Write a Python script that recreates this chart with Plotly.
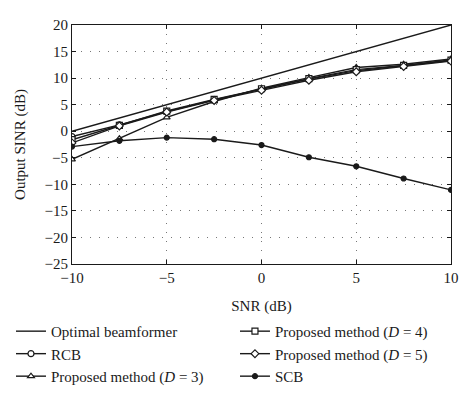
import plotly.graph_objects as go

snr = [-10, -7.5, -5, -2.5, 0, 2.5, 5, 7.5, 10]
optimal = [0, 2.5, 5, 7.5, 10, 12.5, 15, 17.5, 20]
rcb = [-1.0, 1.2, 3.7, 5.9, 7.9, 9.8, 11.4, 12.3, 13.3]
prop_d3 = [-5.3, -1.4, 2.6, 5.6, 8.1, 10.1, 12.0, 12.6, 13.6]
prop_d4 = [-1.6, 1.1, 3.8, 6.0, 8.0, 9.9, 11.6, 12.4, 13.4]
prop_d5 = [-2.2, 1.0, 3.6, 5.8, 7.7, 9.6, 11.2, 12.2, 13.2]
scb = [-2.9, -1.8, -1.2, -1.5, -2.6, -4.9, -6.6, -8.9, -11.05]

x_ticks = [-10, -5, 0, 5, 10]
y_ticks = [-25, -20, -15, -10, -5, 0, 5, 10, 15, 20]

FONT = "Liberation Serif"
BLACK = "#1a1a1a"

fig = go.Figure()

def add(name, y, symbol, legend, filled=False, mode="lines+markers"):
    fig.add_trace(go.Scatter(
        x=snr, y=y, name=name, mode=mode, legend=legend,
        line=dict(color=BLACK, width=1.4),
        marker=dict(symbol=symbol, size=6 if not filled else 5,
                    color=BLACK if filled else "white",
                    line=dict(color=BLACK, width=1.2)),
    ))

add("Optimal beamformer", optimal, "circle", "legend", mode="lines")
add("RCB", rcb, "circle", "legend")
add("Proposed method (<i>D</i> = 3)", prop_d3, "triangle-up", "legend")
add("Proposed method (<i>D</i> = 4)", prop_d4, "square", "legend2")
add("Proposed method (<i>D</i> = 5)", prop_d5, "diamond", "legend2")
add("SCB", scb, "circle", "legend2", filled=True)

legend_common = dict(
    font=dict(family=FONT, size=15, color=BLACK),
    bgcolor="rgba(0,0,0,0)", tracegroupgap=0, itemwidth=30,
    xanchor="left", yanchor="top", orientation="v",
)

grid = dict(showgrid=True, gridcolor="#777777", griddash="1px,8px",
            gridwidth=1.2, zeroline=False)

fig.update_layout(
    width=474, height=398,
    margin=dict(l=72, r=23, t=25, b=134, autoexpand=False),
    paper_bgcolor="white", plot_bgcolor="white",
    font=dict(family=FONT, size=15, color=BLACK),
    showlegend=True,
    legend=dict(x=-0.161, y=-0.213, **legend_common),
    legend2=dict(x=0.43, y=-0.213, **legend_common),
    xaxis=dict(
        range=[-10, 10], tickvals=x_ticks, ticks="inside", ticklen=4,
        tickcolor=BLACK, showline=True, linecolor=BLACK, linewidth=1.2,
        mirror="ticks", automargin=False, **grid,
        title=dict(text="SNR (dB)", font=dict(family=FONT, size=15)),
    ),
    yaxis=dict(
        range=[-25, 20], tickvals=y_ticks, ticks="inside", ticklen=4,
        tickcolor=BLACK, showline=True, linecolor=BLACK, linewidth=1.2,
        mirror="ticks", automargin=False, **grid,
        title=dict(text="Output SINR (dB)", font=dict(family=FONT, size=15)),
    ),
)

fig.write_html("out.html", config={"displayModeBar": False},
               post_script="document.body.style.margin='0';")
